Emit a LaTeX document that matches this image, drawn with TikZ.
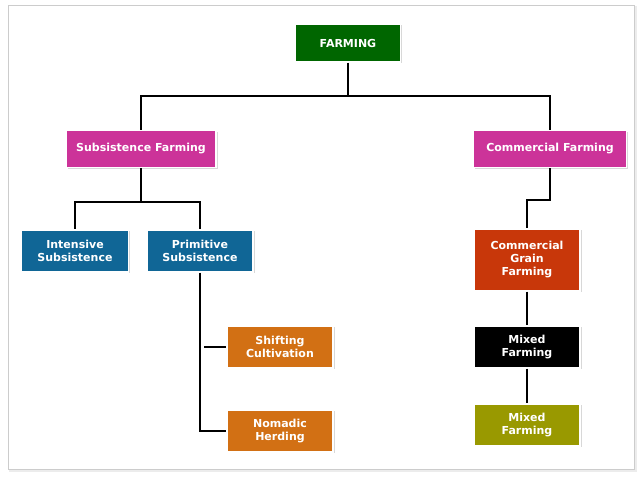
\documentclass[tikz,border=0pt]{standalone}
\usepackage{fontspec}
\setmainfont{DejaVu Sans}
\usetikzlibrary{shadows}
\definecolor{cgreen}{RGB}{0,102,0}
\definecolor{cmag}{RGB}{204,51,153}
\definecolor{cblue}{RGB}{16,102,150}
\definecolor{corange}{RGB}{210,112,20}
\definecolor{cred}{RGB}{200,55,10}
\definecolor{colive}{RGB}{153,153,0}
\begin{document}
\begin{tikzpicture}[x=1pt,y=-1pt,
 box/.style={draw=white,line width=1.5pt,text=white,font=\bfseries\fontsize{11}{13}\selectfont,align=center,inner sep=0pt,
   drop shadow={shadow xshift=1.5pt,shadow yshift=-1.5pt,opacity=0.3}},
 ln/.style={line width=1.2pt,black}]
\useasboundingbox (0,0) rectangle (638,478);
\fill[gray!15] (9,6) rectangle (637,472);
\fill[white] (8,5) rectangle (634,469);
\draw[gray!40] (8,5) rectangle (634,469);
\node[box,fill=cgreen,minimum width=105,minimum height=38] (f) at (348,43) {FARMING};
\node[box,fill=cmag,minimum width=150,minimum height=37] (s) at (141,149) {Subsistence Farming};
\node[box,fill=cmag,minimum width=153,minimum height=37] (c) at (550,149) {Commercial Farming};
\node[box,fill=cblue,minimum width=107,minimum height=42] (i) at (75,251) {Intensive\\Subsistence};
\node[box,fill=cblue,minimum width=106,minimum height=42] (p) at (200,251) {Primitive\\Subsistence};
\node[box,fill=corange,minimum width=106,minimum height=42] (sc) at (280,347) {Shifting\\Cultivation};
\node[box,fill=corange,minimum width=106,minimum height=42] (nh) at (280,431) {Nomadic\\Herding};
\node[box,fill=cred,minimum width=106,minimum height=62] (g) at (527,260) {Commercial\\Grain\\Farming};
\node[box,fill=black,minimum width=106,minimum height=42] (m1) at (527,347) {Mixed\\Farming};
\node[box,fill=colive,minimum width=106,minimum height=42] (m2) at (527,425) {Mixed\\Farming};
\draw[ln] (f.south) -- (348,96) -| (s.north);
\draw[ln] (348,96) -| (c.north);
\draw[ln] (s.south) -- (141,202) -| (i.north);
\draw[ln] (141,202) -| (p.north);
\draw[ln] (c.south) -- (550,200) -| (g.north);
\draw[ln] (p.south) |- (nh.west);
\draw[ln] (204,347) -- (sc.west);
\draw[ln] (g.south) -- (m1.north);
\draw[ln] (m1.south) -- (m2.north);
\end{tikzpicture}
\end{document}
